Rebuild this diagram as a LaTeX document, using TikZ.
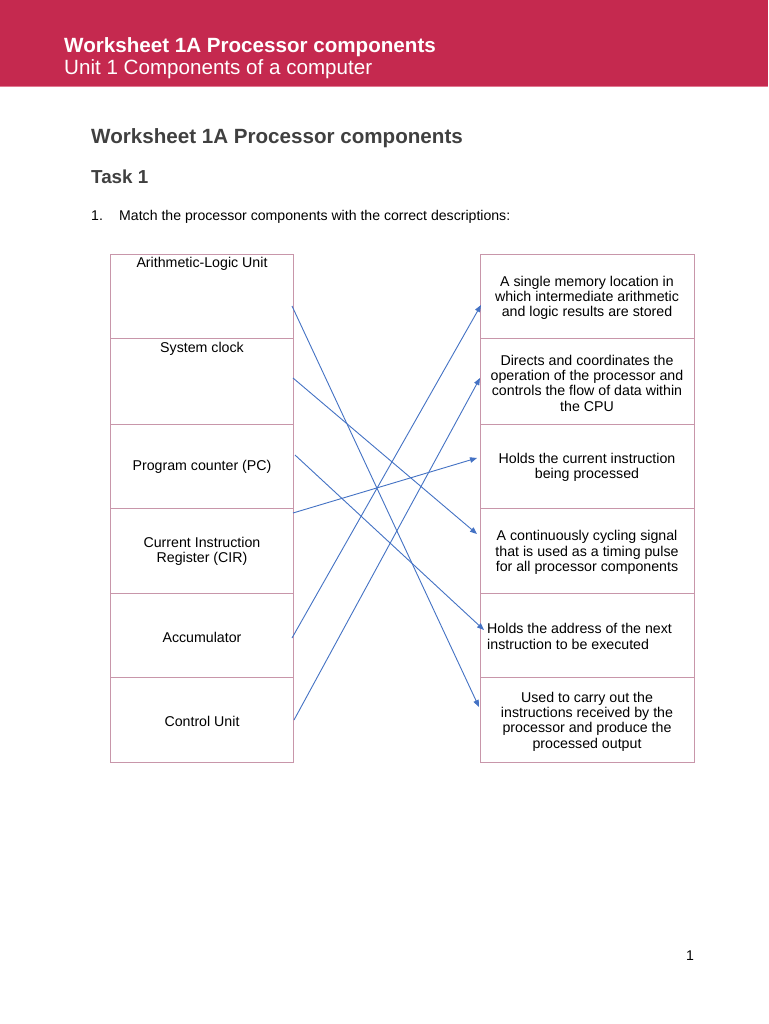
\documentclass[tikz,border=0pt]{standalone}
\usepackage{fontspec}
\setmainfont{Liberation Sans}
\usetikzlibrary{arrows.meta}
\definecolor{band}{RGB}{197,41,79}
\definecolor{bandline}{RGB}{225,120,145}
\definecolor{cellline}{RGB}{200,150,170}
\definecolor{heading}{RGB}{64,64,64}
\definecolor{arrowblue}{RGB}{68,114,196}
\tikzset{
  cell/.style={draw=cellline, line width=0.6pt},
  celltext/.style={inner sep=0pt, align=center, font=\fontsize{14.2}{15.3}\selectfont, text=black},
  match/.style={draw=arrowblue, line width=0.9pt, -{Triangle[length=7pt,width=5.5pt]}},
}
\begin{document}
\begin{tikzpicture}[x=1pt,y=-1pt]
\useasboundingbox (0,0) rectangle (768,1024);
\fill[white] (0,0) rectangle (768,1024);
% header band
\fill[band] (0,0) rectangle (768,86);
\draw[bandline, line width=0.8pt] (0,86.5) -- (768,86.5);
\node[anchor=base west, inner sep=0pt, text=white, font=\fontsize{20.6}{22}\selectfont\bfseries] (htitle) at (64,53) {Worksheet 1A Processor components};
\node[anchor=base west, inner sep=0pt, text=white, font=\fontsize{20.6}{22}\selectfont] (hsub) at (64,75) {Unit 1 Components of a computer};
% headings
\node[anchor=base west, inner sep=0pt, text=heading, font=\fontsize{20.6}{22}\selectfont\bfseries] (title) at (91,144) {Worksheet 1A Processor components};
\node[anchor=base west, inner sep=0pt, text=heading, font=\fontsize{18.8}{20}\selectfont\bfseries] (task) at (91,184) {Task 1};
\node[anchor=base west, inner sep=0pt, font=\fontsize{14.1}{15}\selectfont] (num) at (91,221) {1.};
\node[anchor=base west, inner sep=0pt, font=\fontsize{14.1}{15}\selectfont] (instr) at (119,221) {Match the processor components with the correct descriptions:};
% left cells
\draw[cell] (110,254) rectangle (293,338);
\draw[cell] (110,338) rectangle (293,424);
\draw[cell] (110,424) rectangle (293,508);
\draw[cell] (110,508) rectangle (293,593);
\draw[cell] (110,593) rectangle (293,677);
\draw[cell] (110,677) rectangle (293,762);
% right cells
\draw[cell] (480,254) rectangle (694,338);
\draw[cell] (480,338) rectangle (694,424);
\draw[cell] (480,424) rectangle (694,508);
\draw[cell] (480,508) rectangle (694,593);
\draw[cell] (480,593) rectangle (694,677);
\draw[cell] (480,677) rectangle (694,762);
% left texts
\node[celltext] (alu) at (202,264) {Arithmetic-Logic Unit};
\node[celltext] (clk) at (202,349) {System clock};
\node[celltext] (pc) at (202,467) {Program counter (PC)};
\node[celltext] (cir) at (202,551.5) {Current Instruction\\Register (CIR)};
\node[celltext] (acc) at (202,637) {Accumulator};
\node[celltext] (cu) at (202,721) {Control Unit};
% right texts
\node[celltext] (d1) at (587,298) {A single memory location in\\which intermediate arithmetic\\and logic results are stored};
\node[celltext] (d2) at (587,383) {Directs and coordinates the\\operation of the processor and\\controls the flow of data within\\the CPU};
\node[celltext] (d3) at (587,467.5) {Holds the current instruction\\being processed};
\node[celltext] (d4) at (587,552.5) {A continuously cycling signal\\that is used as a timing pulse\\for all processor components};
\node[celltext, align=left, anchor=west] (d5) at (487,636.5) {Holds the address of the next\\instruction to be executed};
\node[celltext] (d6) at (587,721.5) {Used to carry out the\\instructions received by the\\processor and produce the\\processed output};
% connector end points
\coordinate (s1) at (292,306);
\coordinate (e1) at (479,707);
\coordinate (s2) at (293,378);
\coordinate (e2) at (477,534);
\coordinate (s3) at (295,455);
\coordinate (e3) at (484,630);
\coordinate (s4) at (293,513);
\coordinate (e4) at (477,458);
\coordinate (s5) at (292,638);
\coordinate (e5) at (481,305);
\coordinate (s6) at (294,720);
\coordinate (e6) at (480,378);
\draw[match] (s1) -- (e1);
\draw[match] (s2) -- (e2);
\draw[match] (s3) -- (e3);
\draw[match] (s4) -- (e4);
\draw[match] (s5) -- (e5);
\draw[match] (s6) -- (e6);
% page number
\node[anchor=base, inner sep=0pt, font=\fontsize{14.1}{15}\selectfont] (page) at (690,960) {1};
\end{tikzpicture}
\end{document}
